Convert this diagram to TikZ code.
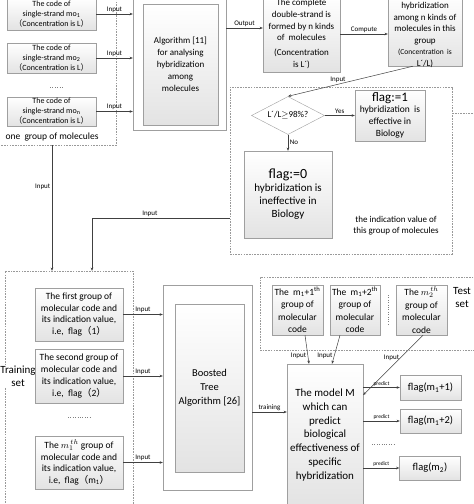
\documentclass[tikz,border=0pt]{standalone}
\usepackage{fontspec}
\setmainfont{Carlito}
\newfontfamily\cjk{Noto Sans CJK SC}
\usetikzlibrary{arrows.meta,shapes.geometric}
\newcommand{\fsz}[2]{\fontsize{#1}{#2}\selectfont}
\newcommand{\fwl}{{\cjk （}}
\newcommand{\fwr}{{\cjk ）}}
\begin{document}
\begin{tikzpicture}[x=1pt,y=-1pt,
    >={Stealth[length=3.2pt,width=2.6pt]},
    box/.style={draw=gray!75, top color=white, bottom color=gray!22, align=center, inner sep=1pt},
    frame/.style={draw=gray!75, fill=white},
    dashbox/.style={draw=gray!80, dash pattern=on 1.6pt off 1.1pt, inner sep=0pt},
    dashline/.style={draw=gray!80, dash pattern=on 1.6pt off 1.1pt},
    flow/.style={->, draw=black!75, line width=0.5pt},
    lbl/.style={font=\fsz{7}{8}, inner sep=1.5pt}]
  \useasboundingbox (0,0) rectangle (474,504);
  \node[dashbox, minimum width=120pt, minimum height=152pt] (onegrp) at (56,69) {};
  \node[dashbox, minimum width=222pt, minimum height=167pt] (ind) at (341,170.5) {};
  \node[dashbox, minimum width=128pt, minimum height=240pt] (trnset) at (69,391) {};
  \node[dashbox, minimum width=220pt, minimum height=73pt] (tstset) at (370,313.5) {};
  \coordinate (rimR) at (480,113);
  \draw[dashline] (ind.east |- rimR) -- (rimR);

  \node[font=\fsz{9.5}{11}] (onetxt) at (52,137) {one\ \ group of molecules};
  \node[box, font=\fsz{8}{10}, minimum width=89pt, minimum height=32pt] (mo1) at (51.5,14) {The code of\\single-strand mo\textsubscript{1}\\\fwl Concentration is L\fwr};
  \node[box, font=\fsz{8}{10}, minimum width=89pt, minimum height=30pt] (mo2) at (51.5,58) {The code of\\single-strand mo\textsubscript{2}\\\fwl Concentration is L\fwr};
  \draw[gray, dotted] (50,87) -- (63,87);
  \node[box, font=\fsz{8}{10}, minimum width=89pt, minimum height=29pt] (mon) at (51.5,111.5) {The code of\\single-strand mo\textsubscript{n}\\\fwl Concentration is L\fwr};
  \node[frame, minimum width=93pt, minimum height=136pt] (algout) at (179.5,62) {};
  \node[box, font=\fsz{9}{12}, minimum width=75pt, minimum height=121pt] (alg) at (180.5,64.5) {Algorithm [11]\\for analysing\\hybridization\\among\\molecules};
  \foreach \m in {mo1,mo2,mon}
    \draw[flow] (\m.east) -- node[lbl, above] {Input} (\m.east -| algout.west);

  \node[box, font=\fsz{9}{11.8}, minimum width=77pt, minimum height=76pt] (dbl) at (301.5,34) {The complete\\double-strand is\\formed by n kinds\\of\ \ molecules\\[3pt](Concentration\\is L´)};
  \draw[flow] ([yshift=6pt]dbl.west -| algout.east) -- node[lbl, above] {Output} ([yshift=6pt]dbl.west);
  \node[box, minimum width=74pt, minimum height=72pt] (grp) at (425,30) {};
  \node[align=center, font=\fsz{9}{11.5}] (grptxt) at (425,35) {hybridization\\among n kinds of\\molecules in this\\group\\{\fsz{7.5}{9}(Concentration\ \ is}\\L´/L)};
  \draw[flow] (dbl.east) -- node[lbl, above] {Compute} (dbl.east -| grp.west);

  \node[draw=gray!75, fill=white, diamond, aspect=1.9, minimum width=73pt, minimum height=38pt, inner sep=0pt, font=\fsz{9}{11}] (dia) at (288,115.5) {L´/L$\geq$98\%?};
  \draw[flow] ([xshift=-12pt]grp.south) -- node[lbl, pos=0.6, above] {Input} (dia.north);
  \node[box, minimum width=70pt, minimum height=51pt, font=\fsz{9.5}{12}] (flag1) at (390,115.5) {{\fsz{13}{13}flag:=1}\\[-1pt]hybridization\ \ is\\effective in\\Biology};
  \draw[flow] (dia.east) -- node[lbl, above] {Yes} (flag1.west);
  \node[box, minimum width=88pt, minimum height=87pt, font=\fsz{11}{13}] (flag0) at (288,194.5) {{\fsz{14}{15}flag:=0}\\hybridization is\\ineffective in\\Biology};
  \draw[flow] (dia.south) -- node[lbl, right] {No} (flag0.north);
  \node[align=center, font=\fsz{9}{11}] (indtxt) at (396,226) {the indication value of\\this group of molecules};

  \draw[flow] ([xshift=-4pt]onegrp.south) -- node[lbl, pos=0.33, left] {Input} ([xshift=-4pt]onegrp.south |- trnset.north);
  \draw[flow] ([yshift=-47.5pt]ind.west) -| node[lbl, pos=0.29, above] {Input} ([xshift=23pt]trnset.north);

  \node[fill=white, inner sep=0.5pt, align=center, font=\fsz{11}{13}] (trntxt) at (18,376) {Training\\set};
  \node[box, font=\fsz{9.5}{11.8}, minimum width=88pt, minimum height=53pt] (t1) at (79,314.5) {The first group of\\molecular code and\\its indication value,\\i.e,\ \ flag\fwl 1\fwr};
  \node[box, font=\fsz{9.5}{11.8}, minimum width=88pt, minimum height=54pt] (t2) at (79,376) {The second group of\\molecular code and\\its indication value,\\i.e,\ \ flag\fwl 2\fwr};
  \draw[gray, dotted] (68,417) -- (90,417);
  \node[box, font=\fsz{9.5}{11.8}, minimum width=88pt, minimum height=53pt] (t3) at (79,462.5) {The $m_1^{\,th}$ group of\\molecular code and\\its indication value,\\i.e,\ \ flag\fwl m\textsubscript{1}\fwr};
  \node[frame, minimum width=89pt, minimum height=205pt] (bstout) at (207.5,387.5) {};
  \node[box, font=\fsz{10.5}{14}, minimum width=69pt, minimum height=168pt] (bst) at (209.5,388) {Boosted\\Tree\\Algorithm [26]};
  \foreach \t in {t1,t2,t3}
    \draw[flow] (\t.east) -- node[lbl, above] {Input} (\t.east -| bstout.west);

  \node[box, font=\fsz{11}{13.8}, minimum width=76pt, minimum height=142pt] (mdl) at (325,435) {The model M\\which can\\predict\\biological\\effectiveness of\\specific\\hybridization};
  \draw[flow] ([yshift=-24.5pt]bstout.east) -- node[lbl, above] {training} ([yshift=-24.5pt]bstout.east -| mdl.west);

  \node[align=center, font=\fsz{11}{13}] (tsttxt) at (462,297.5) {Test\\set};
  \node[box, font=\fsz{9.5}{12.5}, minimum width=51pt, minimum height=50pt] (tb1) at (297.5,310) {The\ \ m\textsubscript{1}+1\textsuperscript{th}\\group of\\molecular\\code};
  \node[box, font=\fsz{9.5}{12.5}, minimum width=50pt, minimum height=50pt] (tb2) at (355,310) {The\ \ m\textsubscript{1}+2\textsuperscript{th}\\group of\\molecular\\code};
  \draw[gray, dotted] (388,295) -- (388,325);
  \node[box, font=\fsz{9.5}{12.5}, minimum width=51pt, minimum height=50pt] (tb3) at (421.5,310) {The $m_2^{\,th}$\\group of\\molecular\\code};
  \draw[flow] ([xshift=7.5pt]tb1.south) -- node[lbl, pos=0.72, left] {Input} ([xshift=-16pt]mdl.north);
  \draw[flow] ([xshift=-15pt]tb2.south) -- node[lbl, pos=0.72, left] {Input} ([xshift=7pt]mdl.north);
  \draw[flow] ([xshift=1.5pt]tb3.south) -- node[lbl, pos=0.37, left] {Input} ([yshift=40pt]mdl.east);

  \node[box, font=\fsz{10.5}{12}, minimum width=61pt, minimum height=25pt] (fm1) at (430.5,387.5) {flag(m\textsubscript{1}+1)};
  \node[box, font=\fsz{10.5}{12}, minimum width=61pt, minimum height=24pt] (fm2) at (430.5,421) {flag(m\textsubscript{1}+2)};
  \draw[gray, dotted] (372,444) -- (395,444);
  \node[box, font=\fsz{10.5}{12}, minimum width=61pt, minimum height=24pt] (fmz) at (430,468) {flag(m\textsubscript{2})};
  \foreach \f in {fm1,fm2,fmz}
    \draw[flow] (\f.west -| mdl.east) -- node[font=\fsz{5.5}{6}, above, inner sep=1pt] {predict} (\f.west);
\end{tikzpicture}
\end{document}
